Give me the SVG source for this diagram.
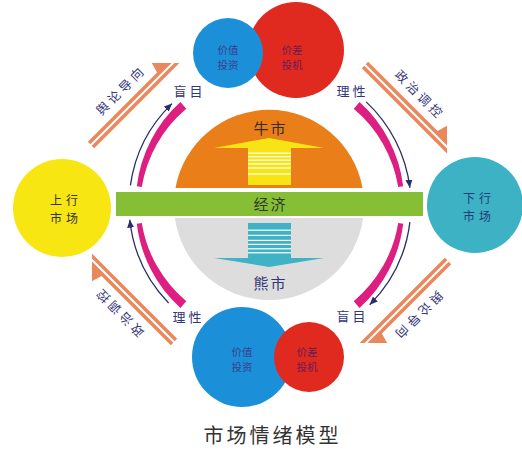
<svg xmlns="http://www.w3.org/2000/svg" xmlns:xlink="http://www.w3.org/1999/xlink" width="522" height="451" viewBox="0 0 522 451">
<style>
text{font-family:"Noto Sans CJK SC","Noto Sans",sans-serif;text-anchor:middle}
.lbl{font-size:13px;fill:#35357a;letter-spacing:3px}
.small{font-size:10.5px}
.mid{font-size:15px;letter-spacing:2px}
.two{font-size:12px;letter-spacing:4px}
.arw{fill:#e9875d}
.arwt{font-size:12.5px;fill:#35357a;letter-spacing:3.5px}
.mg{fill:#dc1f80}
.nv{fill:none;stroke:#2b2d6a;stroke-width:1.3;marker-end:url(#nh)}
.stripe{fill:#ffffff}
</style>
<defs>
<marker id="nh" markerUnits="userSpaceOnUse" markerWidth="9" markerHeight="8" refX="8" refY="3.5" orient="auto">
<path d="M0,0 L8,3.5 L0,7 Z" fill="#2b2d6a"/>
</marker>
<path id="mgArc" d="M -133.2 -18.7 A 135.5 135.5 0 0 1 -89.6 -103.0 L -83.7 -96.2 A 128.7 128.7 0 0 0 -128.2 -18.0 Z"/>
<g id="dblArrow">
<polygon points="0,-4.5 98,-4.5 101,-15 115,-1 0,-1"/>
<polygon points="0,1 117,1 120.5,4.5 0,4.5"/>
</g>
</defs>
<rect width="522" height="451" fill="#ffffff"/>

<g id="center-circle">
<path d="M 175.5 188 A 95 95 0 0 1 362.5 188 Z" fill="#ea7f1a"/>
<path d="M 174.9 218 A 95 95 0 0 0 363.1 218 Z" fill="#dddddd"/>
</g>

<g id="bull-arrow">
<polygon points="269,138 324,148 291,148 291,185 248,185 248,148 214,148" fill="#f7e414"/>
<rect class="stripe" x="248" y="152.6" width="43" height="1.2"/>
<rect class="stripe" x="248" y="156.1" width="43" height="1.2"/>
<rect class="stripe" x="248" y="159.6" width="43" height="1.2"/>
<rect class="stripe" x="248" y="163.3" width="43" height="1.2"/>
<rect class="stripe" x="248" y="167.4" width="43" height="1.2"/>
<rect class="stripe" x="248" y="173.4" width="43" height="1.2"/>
<text x="270.5" y="133.7" class="mid" fill="#3a2b2b">牛市</text>
</g>

<g id="bear-arrow">
<polygon points="248,223 291,223 291,258 324,258 269,267 214,258 248,258" fill="#3fb2c6"/>
<rect class="stripe" x="248" y="229.6" width="43" height="1.2"/>
<rect class="stripe" x="248" y="234.8" width="43" height="1.2"/>
<rect class="stripe" x="248" y="239.8" width="43" height="1.2"/>
<rect class="stripe" x="248" y="243.8" width="43" height="1.2"/>
<rect class="stripe" x="248" y="248.2" width="43" height="1.2"/>
<rect class="stripe" x="248" y="252.2" width="43" height="1.2"/>
<text x="270.5" y="288.7" class="mid" fill="#35357a">熊市</text>
</g>

<g id="economy">
<rect x="116" y="192" width="307" height="24" fill="#86bf35"/>
<text x="270.5" y="209.7" class="mid" fill="#2f3b2a">经济</text>
</g>

<g id="up-market">
<circle cx="62" cy="208" r="49" fill="#f8e612"/>
<text class="two" fill="#333333"><tspan x="66" y="205">上行</tspan><tspan x="66" y="222.5">市场</tspan></text>
</g>

<g id="down-market">
<circle cx="475" cy="205" r="48" fill="#3cb2c4"/>
<text class="two" fill="#263a78"><tspan x="479" y="203">下行</tspan><tspan x="479" y="220.5">市场</tspan></text>
</g>

<g id="top-pair">
<circle cx="296" cy="50" r="48" fill="#e0291f"/>
<circle cx="228" cy="53" r="35" fill="#1b90d8"/>
<text x="228" y="54" class="small" fill="#3a3f8f">价值</text>
<text x="228" y="69" class="small" fill="#3a3f8f">投资</text>
<text x="292" y="54" class="small" fill="#6b1e55">价差</text>
<text x="292" y="69" class="small" fill="#6b1e55">投机</text>
</g>

<g id="bottom-pair">
<circle cx="242" cy="357" r="50" fill="#1b90d8"/>
<circle cx="309" cy="357" r="35" fill="#e0291f"/>
<text x="242" y="356" class="small" fill="#3a3f8f">价值</text>
<text x="242" y="371" class="small" fill="#3a3f8f">投资</text>
<text x="307" y="356" class="small" fill="#6b1e55">价差</text>
<text x="307" y="371" class="small" fill="#6b1e55">投机</text>
</g>

<g id="connectors">
<g class="mg">
<use xlink:href="#mgArc" transform="translate(270,205)"/>
<use xlink:href="#mgArc" transform="translate(270,205) scale(-1,1)"/>
<use xlink:href="#mgArc" transform="translate(270,205) scale(1,-1)"/>
<use xlink:href="#mgArc" transform="translate(270,205) scale(-1,-1)"/>
</g>
<path class="nv" d="M 130.4 185.4 A 141 141 0 0 1 172.0 103.6"/>
<path class="nv" d="M 366.2 101.9 A 141 141 0 0 1 409.9 187.8"/>
<path class="nv" d="M 409.9 222.2 A 141 141 0 0 1 369.7 304.7"/>
<path class="nv" d="M 168.6 303.0 A 141 141 0 0 1 129.8 219.7"/>

<g transform="translate(91,145) rotate(-45)">
<use xlink:href="#dblArrow" class="arw"/>
<text x="60" y="-13" class="arwt">舆论导向</text>
</g>
<g transform="translate(365,65) rotate(45)">
<use xlink:href="#dblArrow" class="arw"/>
<text x="60" y="-13" class="arwt">政治调控</text>
</g>
<g transform="translate(448,261) rotate(135)">
<use xlink:href="#dblArrow" class="arw"/>
<text x="60" y="-13" class="arwt">舆论导向</text>
</g>
<g transform="translate(174,342) rotate(225)">
<use xlink:href="#dblArrow" class="arw"/>
<text x="60" y="-13" class="arwt">政治调控</text>
</g>
</g>

<g id="labels">
<text x="189.5" y="96" class="lbl">盲目</text>
<text x="352.5" y="96" class="lbl">理性</text>
<text x="188.5" y="322" class="lbl">理性</text>
<text x="352.5" y="321" class="lbl">盲目</text>
</g>

<g id="title">
<text x="272.5" y="443" style="font-size:20px;letter-spacing:3px" fill="#333333">市场情绪模型</text>
</g>
</svg>
